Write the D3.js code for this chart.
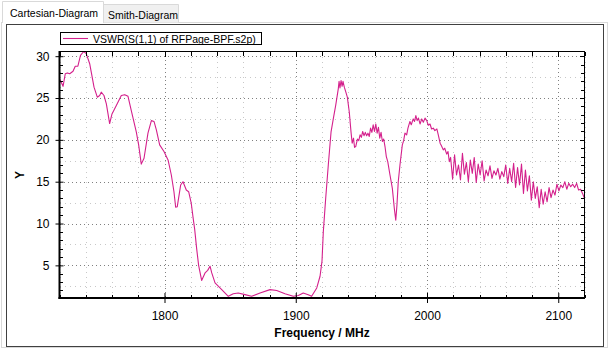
<!DOCTYPE html>
<html>
<head>
<meta charset="utf-8">
<script src="https://cdn.jsdelivr.net/npm/d3@7"></script>
<style>
  body { margin: 0; background: #ffffff; }
  svg { display: block; font-family: "Liberation Sans", Arial, sans-serif; }
</style>
</head>
<body>
<svg id="chart" width="611" height="348"></svg>
<script>
// VSWR of S(1,1) for the band-pass filter, frequency in MHz
const freqMHz = [
  1720, 1721, 1722.7, 1724.4, 1726, 1727.8, 1730.3, 1732, 1734, 1736, 1738.4, 1740.4, 1743, 1744.2,
  1746.3, 1748.8, 1750.6, 1751.8, 1753.9, 1755.7, 1758.2, 1760, 1763.3, 1767.1, 1769.7, 1772.2,
  1774.7, 1778.5, 1780.3, 1782.3, 1784.4, 1787.4, 1790, 1792, 1793.8, 1796.3, 1799.6, 1802.7,
  1805.2, 1807.2, 1808.5, 1809.7, 1812.3, 1814.1, 1816.6, 1818.4, 1820.4, 1821.7, 1823, 1824.5,
  1826, 1828.3, 1830.9, 1832.9, 1834.7, 1836, 1838.5, 1843.6, 1848.6, 1852.4, 1856.2, 1861.3,
  1866.4, 1872.8, 1880.4, 1885.5, 1891.8, 1898.1, 1902, 1905.7, 1909.5, 1912.1, 1916, 1918.5,
  1920, 1921, 1922.8, 1924.8, 1926.9, 1928.6, 1930.4, 1932.4, 1933, 1933.7, 1934.5, 1935.3, 1936,
  1937, 1938, 1939.3, 1940.8, 1942.1, 1943, 1944, 1944.8, 1945.7, 1947, 1948, 1949, 1950, 1951,
  1952, 1953, 1954, 1955, 1956, 1957, 1958, 1959, 1960, 1961, 1962, 1963, 1964, 1965, 1966, 1967,
  1968, 1969, 1970.1, 1971.8, 1973.6, 1975.1, 1976.2, 1977.1, 1978.1, 1979.4, 1981.2, 1982.2,
  1983.2, 1984.5, 1985.5, 1987, 1988, 1989.5, 1990.5, 1991.5, 1992.5, 1993.5, 1994.7, 1996, 1997.2,
  1998.5, 1999.8, 2001, 2002.3, 2003.5, 2004.8, 2006, 2007.5, 2008.6, 2010, 2011, 2012.4, 2013.5,
  2015, 2016, 2017, 2018, 2019.5, 2021, 2022.5, 2024, 2025.5, 2027, 2028.5, 2030, 2031.5, 2033,
  2034.5, 2036, 2037.5, 2039, 2040.5, 2042, 2043.5, 2045, 2046.5, 2048, 2049.5, 2051, 2052.5, 2054,
  2055.5, 2057, 2058.5, 2060, 2061.5, 2063, 2064.5, 2066, 2067.5, 2069, 2070.5, 2072, 2073.5, 2075,
  2076.5, 2078, 2079.5, 2081, 2082.5, 2084, 2085.5, 2087, 2088.5, 2090, 2091.5, 2093, 2094.5, 2096,
  2097.5, 2099, 2100.5, 2102, 2103.5, 2105, 2106.5, 2108, 2109.5, 2111, 2112.5, 2114, 2115.5, 2117,
  2118.5, 2120
];
const vswr = [
  27.3, 27.0, 26.4, 27.9, 28.0, 27.9, 28.2, 28.8, 28.8, 30.1, 30.56, 30.3, 29.1, 28.1,
  26.3, 25.1, 25.3, 25.7, 25.3, 24.3, 21.95, 23.1, 24.1, 25.3, 25.4, 25.2,
  23.5, 20.95, 19.4, 17.1, 17.8, 20.8, 22.3, 22.2, 21.2, 19.4, 18.6, 17.6,
  15.8, 13.8, 11.95, 12.0, 14.6, 15.0, 14.0, 13.8, 12.4, 10.8, 9.3, 7.0,
  5.0, 3.2, 4.1, 4.4, 4.9, 4.1, 2.9, 2.1, 1.3, 1.6, 1.7, 1.5,
  1.3, 1.7, 2.1, 2.0, 1.6, 1.3, 1.4, 1.7, 1.5, 1.3, 2.3, 3.7,
  5.5, 9.0, 13.0, 17.0, 20.95, 22.5, 24.1, 26.1, 27.0, 26.2, 27.1, 26.4, 27.0,
  26.3, 25.8, 25.1, 23.3, 20.95, 19.6, 20.2, 19.1, 19.2, 20.1, 19.9, 20.6, 20.3, 21.0,
  20.5, 20.9, 20.5, 20.8, 20.4, 21.4, 20.9, 21.8, 21.0, 21.9, 20.8, 21.5, 20.2, 20.9, 19.8, 20.1,
  19.2, 18.0, 17.4, 15.8, 14.2, 11.8, 10.4, 12.2, 15.0, 17.0, 19.4, 19.9,
  20.8, 20.6, 21.4, 22.2, 21.8, 22.5, 22.2, 22.9, 22.3, 22.6, 21.9, 22.5, 22.1,
  22.6, 22.3, 21.75, 21.9, 21.3, 21.4, 21.1, 21.3, 20.6, 19.6, 19.3, 18.8, 19.0,
  18.3, 18.6, 17.4, 17.9, 15.3, 18.2, 15.8, 17.0, 15.2, 18.4, 15.9, 17.3, 15.0, 17.6,
  16.0, 17.9, 14.9, 17.1, 15.8, 17.5, 15.1, 16.4, 15.7, 16.9, 15.4, 16.3, 15.8, 16.6,
  15.3, 16.2, 15.6, 17.0, 14.8, 16.6, 15.0, 17.2, 14.3, 16.7, 14.6, 17.1, 13.6, 16.4,
  13.9, 15.7, 12.8, 15.0, 13.0, 14.4, 11.9, 14.1, 12.3, 13.8, 12.6, 14.3, 13.1, 14.0,
  13.4, 14.7, 13.9, 14.6, 14.3, 15.0, 14.1, 14.8, 14.4, 14.7, 14.3, 14.8, 14.0, 14.1,
  13.6, 13.0
];

const seriesName = "VSWR(S(1,1) of RFPage-BPF.s2p)";
const tabLabels = ["Cartesian-Diagram", "Smith-Diagram"];
const xMajorTicks = [1800, 1900, 2000, 2100];
const yMajorTicks = [5, 10, 15, 20, 25, 30];
const xTitle = "Frequency / MHz";
const yTitle = "Y";

const svg = d3.select("#chart");

// ---- tab control ----
svg.append("rect").attr("x", 1.5).attr("y", 22.5).attr("width", 606).attr("height", 325)
  .attr("fill", "#ffffff").attr("stroke", "#d9d9d9");
svg.append("path").attr("d", "M103.5,22.5V4.5H178.5V22.5")
  .attr("fill", "#f0f0f0").attr("stroke", "#d9d9d9");
svg.append("path").attr("d", "M2.5,23V1.5H103.5V23")
  .attr("fill", "#ffffff").attr("stroke", "#d9d9d9");
svg.append("text").attr("x", 10).attr("y", 17).attr("font-size", 10.5).attr("fill", "#000")
  .text(tabLabels[0]);
svg.append("text").attr("x", 108).attr("y", 19).attr("font-size", 10.5).attr("fill", "#000")
  .text(tabLabels[1]);

// chart control frame
svg.append("rect").attr("x", 6.5).attr("y", 24.5).attr("width", 597).attr("height", 322)
  .attr("fill", "#ffffff").attr("stroke", "#404040");

// ---- scales ----
const plot = { left: 59.5, right: 584.5, top: 51.5, bottom: 298 };
const x = d3.scaleLinear().domain([1720, 2120]).range([plot.left, plot.right]);
const y = d3.scaleLinear().domain([1.1, 30.56]).range([plot.bottom, plot.top]);

const xMinor = d3.range(1720, 2121, 20).filter(v => !xMajorTicks.includes(v));
const yMinor = d3.range(2, 31, 1).filter(v => !yMajorTicks.includes(v));
const yMinorGrid = d3.range(2.5, 30, 5);

// ---- grid ----
const grid = svg.append("g").attr("shape-rendering", "crispEdges");
grid.selectAll(".vminor").data(xMinor).join("line")
  .attr("x1", d => Math.round(x(d)) + 0.5).attr("x2", d => Math.round(x(d)) + 0.5)
  .attr("y1", plot.top).attr("y2", plot.bottom)
  .attr("stroke", "#c8c8c8").attr("stroke-dasharray", "1,4");
grid.selectAll(".hminor").data(yMinorGrid).join("line")
  .attr("y1", d => Math.round(y(d)) + 0.5).attr("y2", d => Math.round(y(d)) + 0.5)
  .attr("x1", plot.left).attr("x2", plot.right)
  .attr("stroke", "#c8c8c8").attr("stroke-dasharray", "1,4");
grid.selectAll(".vmajor").data(xMajorTicks).join("line")
  .attr("x1", d => Math.round(x(d)) + 0.5).attr("x2", d => Math.round(x(d)) + 0.5)
  .attr("y1", plot.top).attr("y2", plot.bottom)
  .attr("stroke", "#808080").attr("stroke-dasharray", "1,3");
grid.selectAll(".hmajor").data(yMajorTicks).join("line")
  .attr("y1", d => Math.round(y(d)) + 0.5).attr("y2", d => Math.round(y(d)) + 0.5)
  .attr("x1", plot.left).attr("x2", plot.right)
  .attr("stroke", "#808080").attr("stroke-dasharray", "1,3");

// ---- data line ----
svg.append("clipPath").attr("id", "plotClip").append("rect")
  .attr("x", plot.left).attr("y", plot.top - 1)
  .attr("width", plot.right - plot.left).attr("height", plot.bottom - plot.top + 1);
const points = freqMHz.map((f, i) => [f, vswr[i]]);
svg.append("path").datum(points)
  .attr("clip-path", "url(#plotClip)")
  .attr("fill", "none").attr("stroke", "#d4208c").attr("stroke-width", 1.1)
  .attr("stroke-linejoin", "round")
  .attr("d", d3.line().x(d => x(d[0])).y(d => y(d[1])));

// ---- axes ----
const axisFont = g => g.attr("font-family", "Liberation Sans, Arial, sans-serif")
  .attr("font-size", 12);

const gLeft = svg.append("g").attr("transform", `translate(${plot.left},0)`)
  .call(d3.axisLeft(y).tickValues(yMajorTicks).tickSize(4).tickPadding(6).tickFormat(d3.format("d")))
  .call(axisFont);
gLeft.selectAll(".tick line").attr("x2", -4).attr("x1", 4).attr("stroke", "#000");
gLeft.selectAll(".tick text").attr("fill", "#000");
gLeft.select(".domain").remove();

const gBottom = svg.append("g").attr("transform", `translate(0,${plot.bottom})`)
  .call(d3.axisBottom(x).tickValues(xMajorTicks).tickSize(5).tickPadding(8).tickFormat(d3.format("d")))
  .call(axisFont);
gBottom.selectAll(".tick line").attr("y1", -5).attr("y2", 5).attr("stroke", "#000");
gBottom.selectAll(".tick text").attr("fill", "#000");
gBottom.select(".domain").remove();

// minor ticks (inside) on all four sides
const ticks = svg.append("g").attr("stroke", "#000").attr("shape-rendering", "crispEdges");
ticks.selectAll(".lm").data(yMinor).join("line")
  .attr("x1", plot.left).attr("x2", plot.left + 3)
  .attr("y1", d => Math.round(y(d)) + 0.5).attr("y2", d => Math.round(y(d)) + 0.5);
ticks.selectAll(".rm").data(yMinor).join("line")
  .attr("x1", plot.right).attr("x2", plot.right - 4)
  .attr("y1", d => Math.round(y(d)) + 0.5).attr("y2", d => Math.round(y(d)) + 0.5);
ticks.selectAll(".rM").data(yMajorTicks).join("line")
  .attr("x1", plot.right).attr("x2", plot.right - 5)
  .attr("y1", d => Math.round(y(d)) + 0.5).attr("y2", d => Math.round(y(d)) + 0.5);
ticks.selectAll(".bm").data(xMinor).join("line")
  .attr("y1", plot.bottom).attr("y2", plot.bottom - 3)
  .attr("x1", d => Math.round(x(d)) + 0.5).attr("x2", d => Math.round(x(d)) + 0.5);
ticks.selectAll(".tm").data(xMinor).join("line")
  .attr("y1", plot.top).attr("y2", plot.top + 4)
  .attr("x1", d => Math.round(x(d)) + 0.5).attr("x2", d => Math.round(x(d)) + 0.5);
ticks.selectAll(".tM").data(xMajorTicks).join("line")
  .attr("y1", plot.top).attr("y2", plot.top + 5)
  .attr("x1", d => Math.round(x(d)) + 0.5).attr("x2", d => Math.round(x(d)) + 0.5);

// frame lines
svg.append("line").attr("x1", plot.left).attr("x2", plot.left).attr("y1", plot.top - 0.5).attr("y2", plot.bottom + 1)
  .attr("stroke", "#000").attr("stroke-width", 2);
svg.append("line").attr("x1", plot.left - 1).attr("x2", plot.right + 0.5).attr("y1", plot.bottom).attr("y2", plot.bottom)
  .attr("stroke", "#000").attr("stroke-width", 2);
svg.append("line").attr("x1", plot.left).attr("x2", plot.right + 0.5).attr("y1", plot.top).attr("y2", plot.top)
  .attr("stroke", "#000").attr("stroke-width", 1);
svg.append("line").attr("x1", plot.right).attr("x2", plot.right).attr("y1", plot.top).attr("y2", plot.bottom)
  .attr("stroke", "#000").attr("stroke-width", 1);

// ---- axis titles ----
svg.append("text").attr("x", (plot.left + plot.right) / 2).attr("y", 337)
  .attr("text-anchor", "middle").attr("font-size", 12).attr("font-weight", "bold")
  .text(xTitle);
svg.append("text").attr("transform", "translate(24,175) rotate(-90)")
  .attr("text-anchor", "middle").attr("font-size", 12).attr("font-weight", "bold")
  .text(yTitle);

// ---- legend ----
const legend = svg.append("g");
legend.append("rect").attr("x", 60.5).attr("y", 32.5).attr("width", 201).attr("height", 12)
  .attr("fill", "#ffffff").attr("stroke", "#000");
legend.append("line").attr("x1", 63).attr("x2", 88).attr("y1", 38.5).attr("y2", 38.5)
  .attr("stroke", "#d4208c").attr("stroke-width", 1.1);
legend.append("text").attr("x", 93).attr("y", 42.5).attr("font-size", 10.5)
  .text(seriesName);
</script>
</body>
</html>
